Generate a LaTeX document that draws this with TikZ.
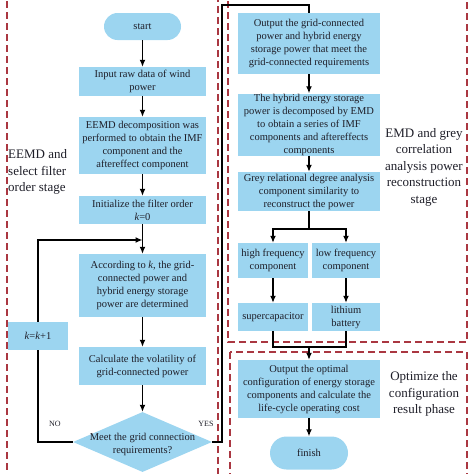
\documentclass[tikz,border=0pt]{standalone}
\usepackage{fontspec}
\setmainfont{Liberation Serif}
\usetikzlibrary{arrows.meta,shapes.geometric,positioning}

\definecolor{boxblue}{RGB}{156,213,240}
\definecolor{framered}{RGB}{170,55,65}
\definecolor{inkgray}{RGB}{30,30,40}

\begin{document}
\begin{tikzpicture}[
    x=1pt, y=-1pt,
    every node/.style={inner sep=0pt, text=inkgray},
    box/.style={fill=boxblue, align=center, minimum width=127pt, font=\fontsize{10.5}{13}\selectfont},
    rbox/.style={box, minimum width=142pt},
    term/.style={box, rounded corners=13.5pt},
    decision/.style={diamond, fill=boxblue, minimum width=139pt, minimum height=60pt},
    stage/.style={align=center, font=\fontsize{13}{16.5}\selectfont},
    frame/.style={draw=framered, line width=1.1pt, dash pattern=on 7pt off 4pt},
    arrow/.style={draw, line width=1.3pt, -{Latex[length=7pt,width=6pt]}},
    link/.style={draw, line width=1.3pt}
]
\useasboundingbox (0,0) rectangle (474,474);
\clip (0,0) rectangle (474,474);

% stage frames
\draw[frame] (7,-10) rectangle (218,490);
\draw[frame] (228,-10) rectangle (467,342);
\draw[frame] (230,352) rectangle (467,490);

% left column
\node[term, minimum width=77pt, minimum height=27pt] (start) at (142.5,26.5) {start};
\node[box, minimum height=29pt] (raw) at (142.5,81.5) {Input raw data of wind\\power};
\node[box, minimum height=57pt] (eemd) at (142.5,145.5) {EEMD decomposition was\\performed to obtain the IMF\\component and the\\aftereffect component};
\node[box, minimum height=28pt] (init) at (142.5,210) {Initialize the filter order\\\textit{k}=0};
\node[box, minimum height=63pt] (acc) at (142.5,285.5) {According to \textit{k}, the grid-\\connected power and\\hybrid energy storage\\power are determined};
\node[box, minimum height=38pt] (calc) at (142.5,366) {Calculate the volatility of\\grid-connected power};
\node[decision, label={[align=center, yshift=-2pt, font=\fontsize{10.5}{13}\selectfont]center:{Meet the grid connection\\requirements?}}] (dia) at (142.5,442) {};
\node[box, minimum width=60pt, minimum height=28pt] (kk) at (38,336) {\textit{k}=\textit{k}+1};
\coordinate (join) at (142.5,240);
\coordinate (up) at (222,5);

% right column
\node[rbox, minimum height=61pt] (out) at (309,43.5) {Output the grid-connected\\power and hybrid energy\\storage power that meet the\\grid-connected requirements};
\node[rbox, minimum height=62pt] (hes) at (309,124.5) {The hybrid energy storage\\power is decomposed by EMD\\to obtain a series of IMF\\components and aftereffects\\components};
\node[rbox, minimum height=39pt] (grey) at (309,191.5) {Grey relational degree analysis\\component similarity to\\reconstruct the power};
\node[box, minimum width=70pt, minimum height=35pt] (high) at (273,260.5) {high frequency\\component};
\node[box, minimum width=68pt, minimum height=35pt] (low) at (346,260.5) {low frequency\\component};
\node[box, minimum width=70pt, minimum height=28pt] (sc) at (273,317) {supercapacitor};
\node[box, minimum width=68pt, minimum height=28pt] (li) at (346,317) {lithium\\battery};
\node[rbox, minimum height=58pt] (opt) at (309,389) {Output the optimal\\configuration of energy storage\\components and calculate the\\life-cycle operating cost};
\node[term, minimum width=78pt, minimum height=33pt, rounded corners=16.5pt] (fin) at (309,453) {finish};
\coordinate (split) at (309,229);
\coordinate (merge) at (309,347);

% stage labels
\node[stage, align=left, anchor=west] (lstage) at (8,172) {EEMD and\\select filter\\order stage};
\node[stage] (rstage) at (424,167) {EMD and grey\\correlation\\analysis power\\reconstruction\\stage};
\node[stage] (ostage) at (424,394) {Optimize the\\configuration\\result phase};

% branch labels
\node[font=\fontsize{8}{9}\selectfont] (no) at (55,424) {NO};
\node[font=\fontsize{8}{9}\selectfont] (yes) at (206,424) {YES};

% connectors
\draw[arrow] (start) -- (raw);
\draw[arrow] (raw) -- (eemd);
\draw[arrow] (eemd) -- (init);
\draw[arrow] (init) -- (acc);
\draw[arrow] (acc) -- (calc);
\draw[arrow] (calc) -- (dia);
\draw[link] (dia.west) -| (kk.south);
\draw[arrow] (kk.north) |- (join);
\draw[link] (dia.east) -| (up) -| (out.north);
\draw[arrow] (out) -- (hes);
\draw[arrow] (hes) -- (grey);
\draw[link] (grey) -- (split);
\draw[arrow] (split) -| (high.north);
\draw[arrow] (split) -| (low.north);
\draw[arrow] (high) -- (sc);
\draw[arrow] (low) -- (li);
\draw[link] (sc.south) |- (merge);
\draw[link] (li.south) |- (merge);
\draw[arrow] (merge) -- (opt);
\draw[arrow] (opt) -- (fin);
\end{tikzpicture}
\end{document}
